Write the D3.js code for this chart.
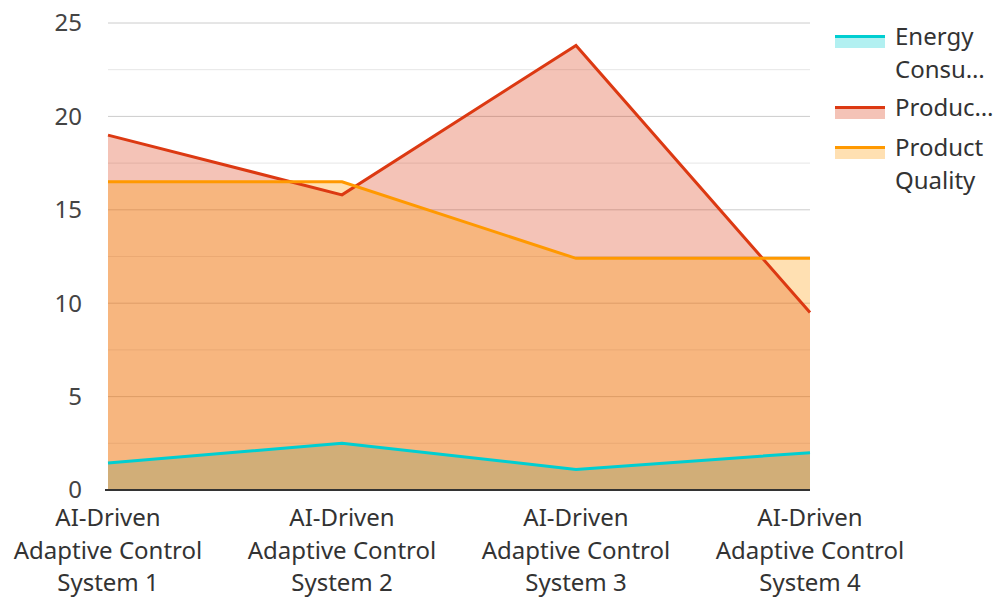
<!DOCTYPE html>
<html><head><meta charset="utf-8">
<script src="https://cdn.jsdelivr.net/npm/d3@7"></script>
<style>body{margin:0;background:#fff;}svg{display:block;font-family:"Noto Sans","Open Sans",sans-serif;}</style>
</head><body>
<svg id="c" width="997" height="597"></svg>
<script>
const categories = ["AI-Driven Adaptive Control System 1","AI-Driven Adaptive Control System 2","AI-Driven Adaptive Control System 3","AI-Driven Adaptive Control System 4"];
const categoryLines = [["AI-Driven","Adaptive Control","System 1"],["AI-Driven","Adaptive Control","System 2"],["AI-Driven","Adaptive Control","System 3"],["AI-Driven","Adaptive Control","System 4"]];
const energyConsumption = [1.45, 2.5, 1.1, 2.0];
const productionRate = [19.0, 15.8, 23.8, 9.5];
const productQuality = [16.5, 16.5, 12.4, 12.4];
const yTicks = [0,5,10,15,20,25];
const yMinorTicks = [2.5,7.5,12.5,17.5,22.5];
const seriesNames = ["Energy Consumption","Production Rate","Product Quality"];
const legendLabels = [["Energy","Consu…"],["Produc…"],["Product","Quality"]];
const colors = ["#00CED1","#DC3912","#FF9900"];

const svg = d3.select("#c");
const x = d3.scalePoint().domain(categories).range([108,810]);
const y = d3.scaleLinear().domain([0,25]).range([490,23]);

// grid
svg.append("g").selectAll("line").data(yMinorTicks).join("line")
  .attr("x1",108).attr("x2",810).attr("y1",d=>y(d)).attr("y2",d=>y(d))
  .attr("stroke","#e6e6e6").attr("stroke-width",1);
svg.append("g").selectAll("line").data(yTicks.filter(d=>d>0)).join("line")
  .attr("x1",108).attr("x2",810).attr("y1",d=>y(d)).attr("y2",d=>y(d))
  .attr("stroke","#cccccc").attr("stroke-width",1);

const series = [energyConsumption, productionRate, productQuality];
const area = d3.area().x((d,i)=>x(categories[i])).y0(y(0)).y1(d=>y(d));
const line = d3.line().x((d,i)=>x(categories[i])).y(d=>y(d));
series.forEach((s,k)=>{
  svg.append("path").datum(s).attr("d",area).attr("fill",colors[k]).attr("fill-opacity",0.3);
});
series.forEach((s,k)=>{
  svg.append("path").datum(s).attr("d",line).attr("fill","none").attr("stroke",colors[k]).attr("stroke-width",3);
});

// axis line
svg.append("line").attr("x1",105).attr("x2",810).attr("y1",y(0)).attr("y2",y(0)).attr("stroke","#333").attr("stroke-width",2);

// y labels
svg.append("g").selectAll("text").data(yTicks).join("text")
  .attr("x",82).attr("y",d=>y(d)).attr("dy","0.35em").attr("text-anchor","end")
  .attr("font-size",24).attr("fill","#444").text(d=>d);

// x labels
const xl = svg.append("g").selectAll("text").data(categories).join("text")
  .attr("x",d=>x(d)).attr("y",518).attr("text-anchor","middle").attr("font-size",24).attr("fill","#333");
xl.each(function(d,i){
  d3.select(this).selectAll("tspan").data(categoryLines[i]).join("tspan")
    .attr("x",x(d)).attr("dy",(t,j)=>j===0?"0.35em":"32.5px").text(t=>t);
});

// legend
const ly = [35,106,146];
seriesNames.forEach((n,k)=>{
  const g = svg.append("g").attr("transform",`translate(835,${ly[k]})`);
  g.append("rect").attr("x",0).attr("y",0).attr("width",50).attr("height",13).attr("fill",colors[k]).attr("fill-opacity",0.3);
  g.append("rect").attr("x",0).attr("y",0).attr("width",50).attr("height",3).attr("fill",colors[k]);
  const t = g.append("text").attr("x",60).attr("y",2).attr("font-size",24).attr("fill","#333");
  t.selectAll("tspan").data(legendLabels[k]).join("tspan").attr("x",60).attr("dy",(s,j)=>j===0?"0.35em":"32.5px").text(s=>s);
});
</script>
</body></html>
